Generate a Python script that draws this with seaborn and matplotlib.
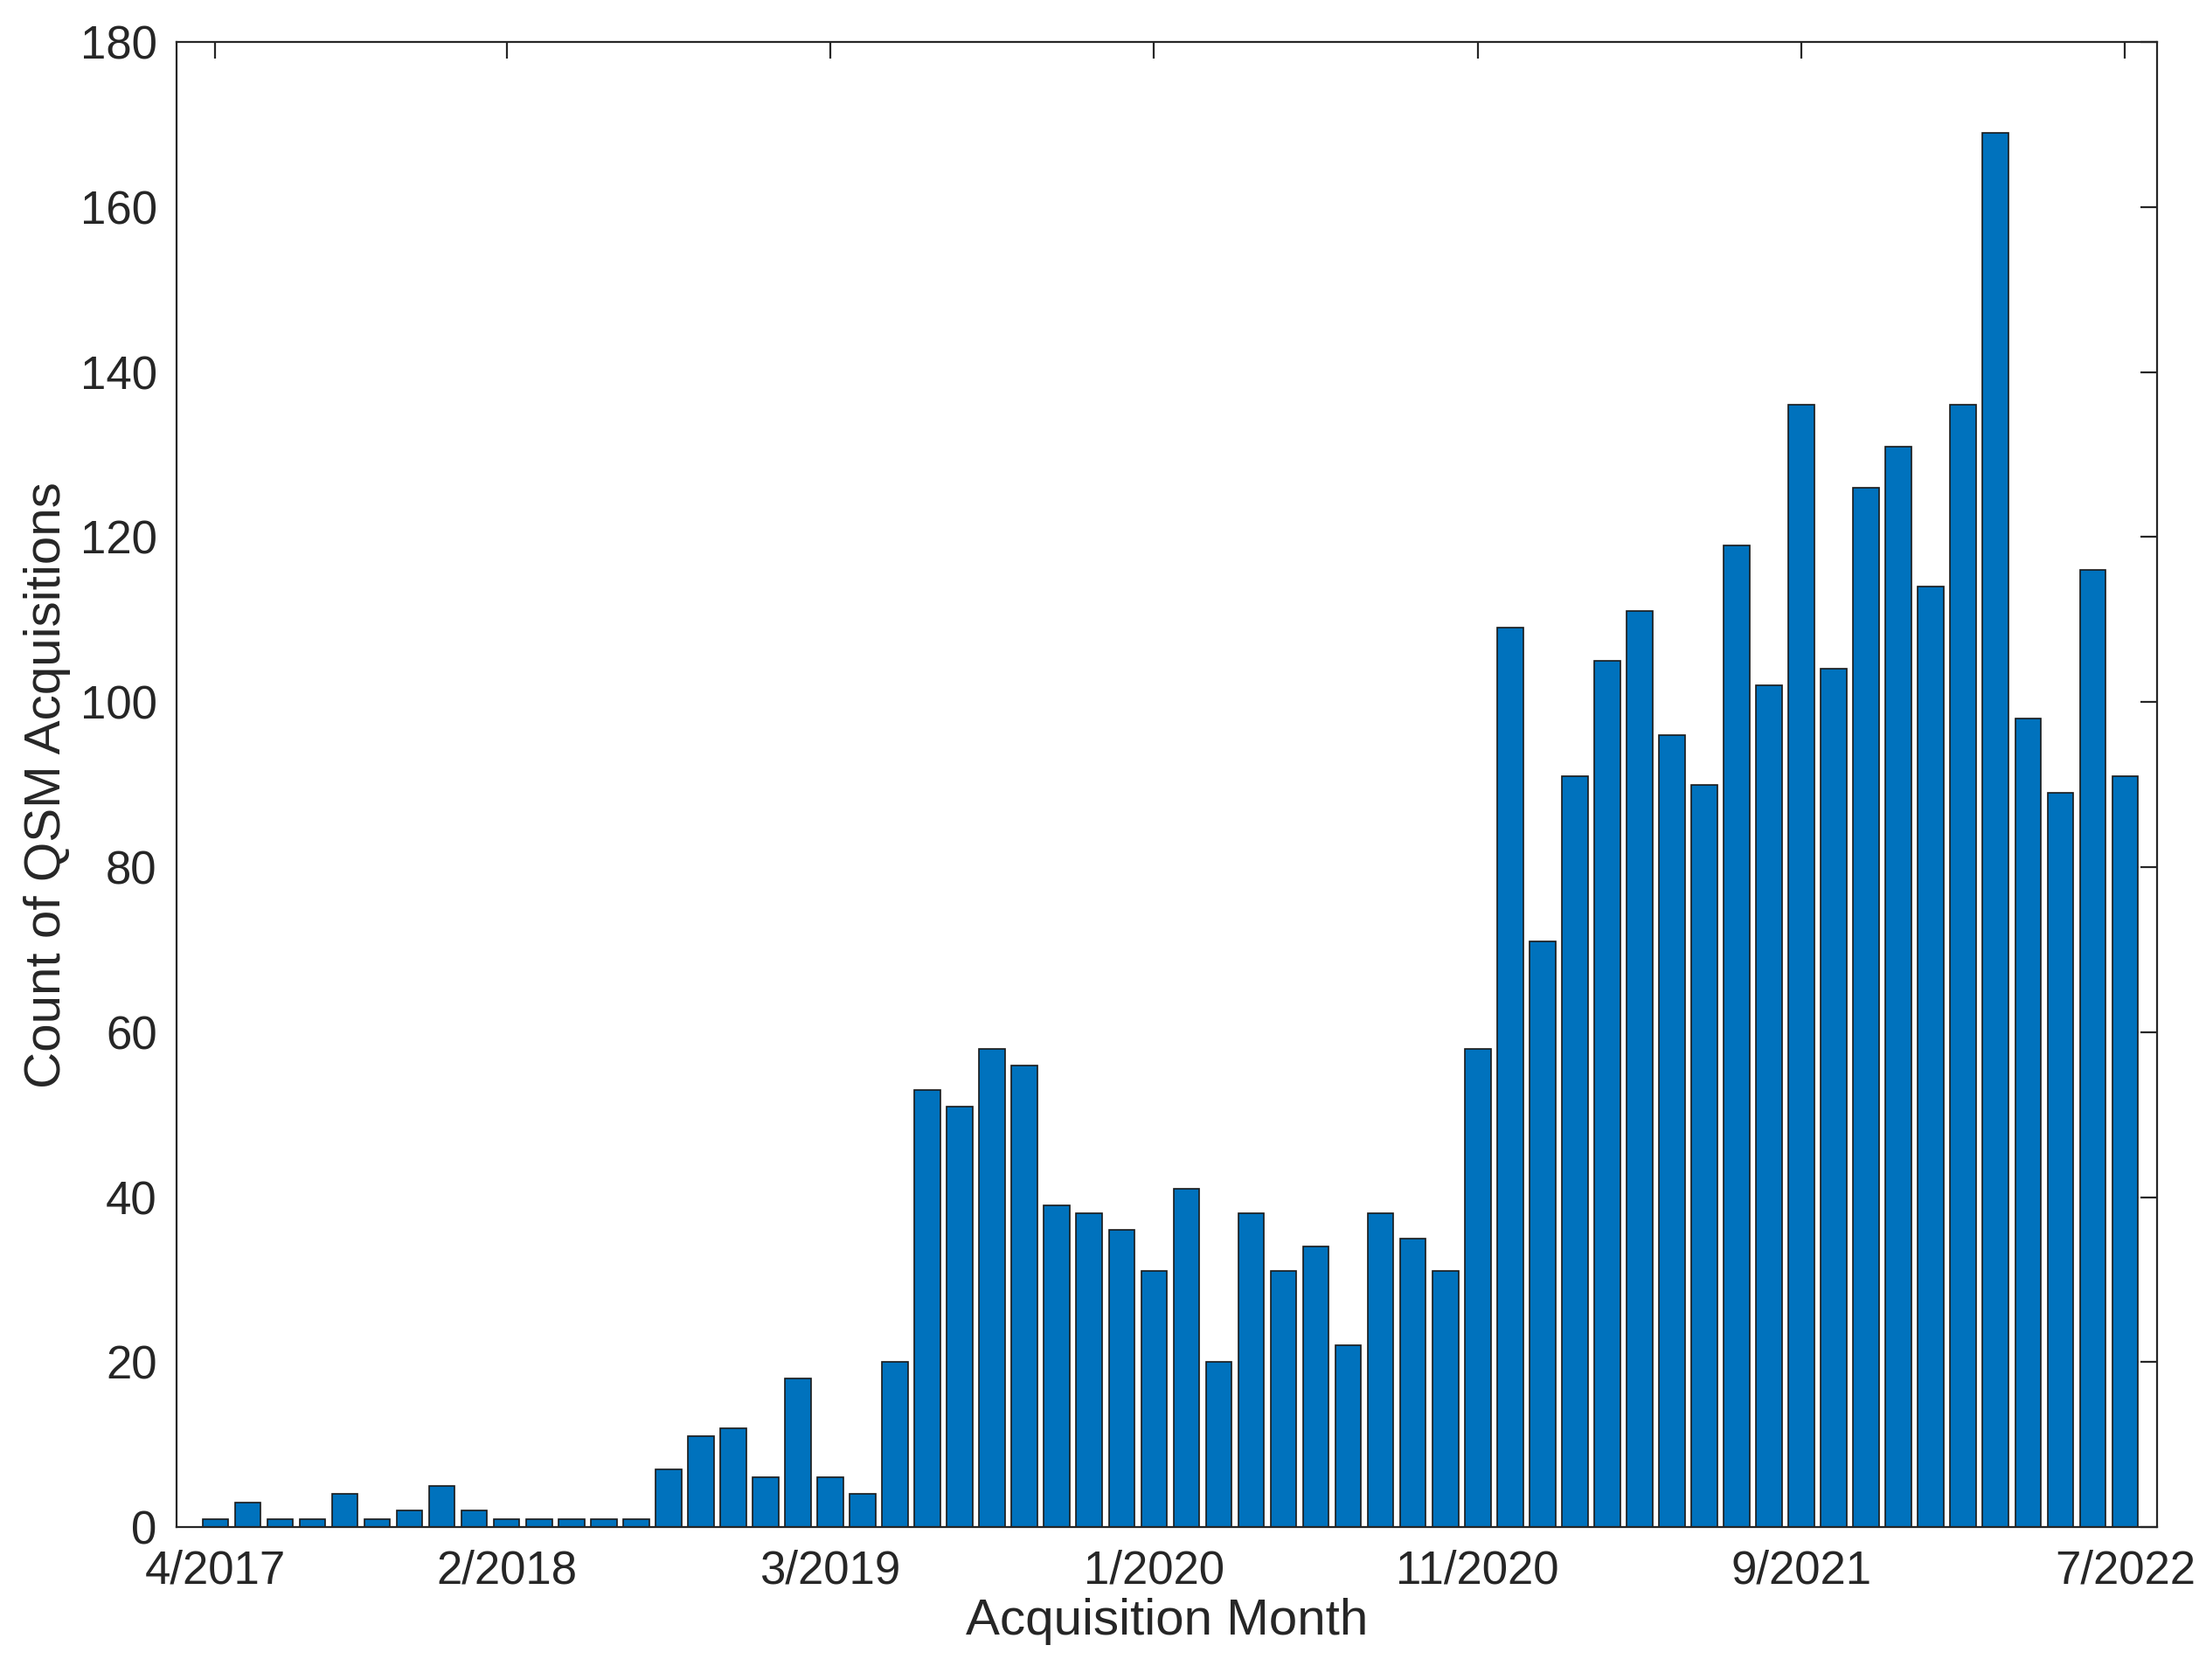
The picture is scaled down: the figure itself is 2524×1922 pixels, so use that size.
import matplotlib
matplotlib.use("Agg")
import matplotlib.pyplot as plt
import seaborn as sns
import numpy as np

counts = [1, 3, 1, 1, 4, 1, 2, 5, 2, 1, 1, 1, 1, 1, 7, 11, 12, 6, 18, 6, 4, 20,
          53, 51, 58, 56, 39, 38, 36, 31, 41, 20, 38, 31, 34, 22, 38, 35, 31,
          58, 109, 71, 91, 105, 111, 96, 90, 119, 102, 136, 104, 126, 131, 114,
          136, 169, 98, 89, 116, 91]
tick_pos = [0, 9, 19, 29, 39, 49, 59]
tick_labels = ["4/2017", "2/2018", "3/2019", "1/2020", "11/2020", "9/2021", "7/2022"]

sns.set_style("white")
plt.rcParams['font.family'] = ['Liberation Sans', 'DejaVu Sans']

fig = plt.figure(figsize=(12.62, 9.61), dpi=200)
ax = fig.add_axes([0.08, 0.091, 0.898, 0.884])
idx = np.arange(len(counts))
sns.barplot(x=idx, y=counts, native_scale=True, width=0.8, color="#0072BD",
            saturation=1, edgecolor="#1a1a1a", linewidth=0.6, ax=ax)
ax.set_xlim(-1.2, 60)
ax.set_ylim(0, 180)
ax.set_yticks(range(0, 181, 20))
ax.set_xticks(tick_pos)
ax.set_xticklabels(tick_labels)
ax.tick_params(direction="in", top=True, right=True, labelsize=19, length=7, width=0.8)
ax.tick_params(axis="x", pad=9)
ax.tick_params(axis="y", pad=8)
for s in ax.spines.values():
    s.set_linewidth(0.8)
    s.set_color("#262626")
ax.set_xlabel("Acquisition Month", fontsize=21, labelpad=2)
ax.set_ylabel("Count of QSM Acquisitions", fontsize=21, labelpad=4)
fig.savefig("out.png", dpi=200)
